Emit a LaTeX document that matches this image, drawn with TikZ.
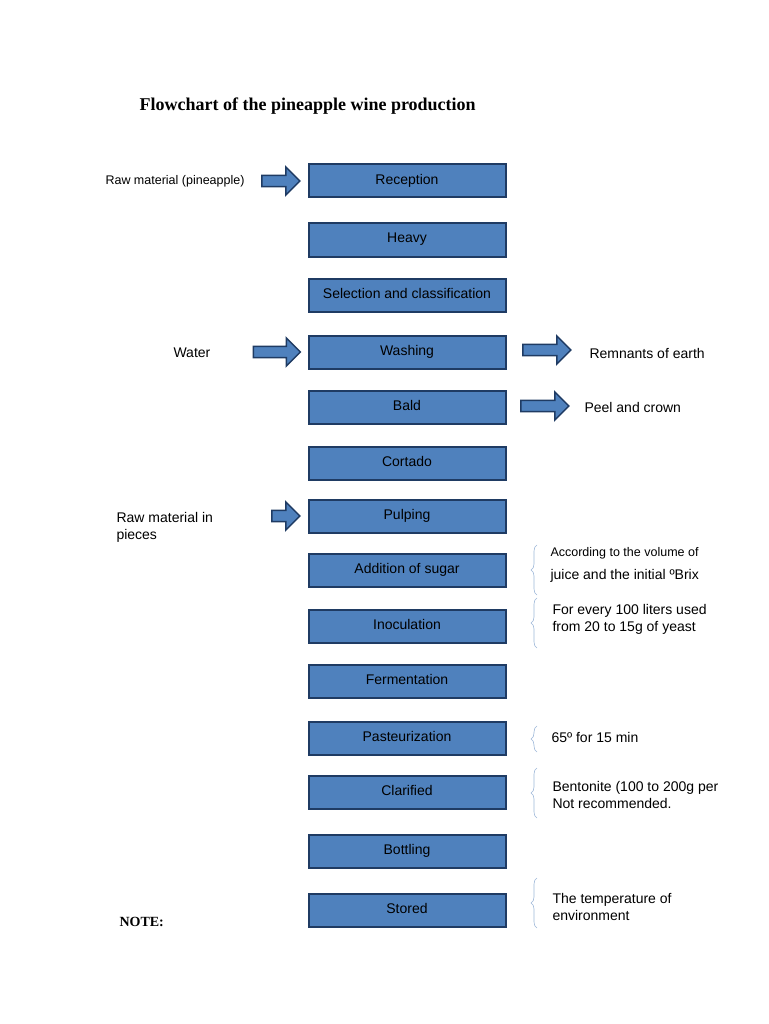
\documentclass[tikz,border=0pt]{standalone}
\usepackage{fontspec}
\setmainfont{Liberation Sans}
\newfontfamily\ttl{Liberation Serif}
\usetikzlibrary{shapes.arrows,decorations.pathreplacing}
\definecolor{bfill}{HTML}{4F81BD}
\definecolor{bdraw}{HTML}{1F3B63}
\definecolor{brc}{HTML}{9DB7D8}
\begin{document}
\begin{tikzpicture}[x=1pt,y=-1pt,
 procbox/.style={draw=bdraw,line width=2pt,fill=bfill,minimum width=197pt,minimum height=33pt,font=\fontsize{14}{16}\selectfont,text depth=4pt,inner sep=0pt},
 barrow/.style={single arrow,draw=bdraw,line width=1.5pt,fill=bfill,single arrow head extend=4pt,minimum height=#1,minimum width=28pt,inner sep=2pt},
 lab/.style={font=\fontsize{14}{17}\selectfont,align=left,anchor=west},
 br/.style={draw=brc,line width=0.6pt,decorate,decoration={brace,amplitude=6pt,mirror}}]
\useasboundingbox (0,0) rectangle (768,1024);
\node[font=\ttl\bfseries\fontsize{18}{20}\selectfont,anchor=west] (title) at (136,106) {Flowchart of the pineapple wine production};
\foreach \n/\t/\y in {s1/Reception/181,s2/Heavy/240,s3/Selection and classification/295,s4/Washing/352,s5/Bald/407,s6/Cortado/463,s7/Pulping/516,s8/Addition of sugar/570,s9/Inoculation/626,s10/Fermentation/681,s11/Pasteurization/738,s12/Clarified/792,s13/Bottling/851,s14/Stored/910}
 \node[procbox] (\n) at (407,\y) {\t};
\node[barrow=38pt] (a1) at (278,181) {};
\node[barrow=47pt] (a2) at (274,352) {};
\node[barrow=48pt] (a3) at (544,350) {};
\node[barrow=48pt] (a4) at (542,406) {};
\node[barrow=28pt] (a5) at (283,516) {};
\node[lab,font=\fontsize{12.5}{15}\selectfont] (l1) at (102,181) {Raw material (pineapple)};
\node[lab] (l2) at (170,353) {Water};
\node[lab] (l3) at (586,353) {Remnants of earth};
\node[lab] (l4) at (581,407) {Peel and crown};
\node[lab] (l5) at (113,527) {Raw material in\\pieces};
\draw[br] (537,545) -- (537,595) coordinate[midway] (b1);
\draw[br] (537,598) -- (537,648) coordinate[midway] (b2);
\draw[br] (537,726) -- (537,752) coordinate[midway] (b3);
\draw[br] (537,768) -- (537,818) coordinate[midway] (b4);
\draw[br] (537,878) -- (537,928) coordinate[midway] (b5);
\node[lab,font=\fontsize{12.5}{15}\selectfont] (n1) at (547,553) {According to the volume of};
\node[lab] (n1b) at (547,576) {juice and the initial ºBrix};
\node[lab] (n2) at (549,619) {For every 100 liters used\\from 20 to 15g of yeast};
\node[lab] (n3) at (548,737) {65º for 15 min};
\node[lab] (n4) at (549,795) {Bentonite (100 to 200g per\\Not recommended.};
\node[lab] (n5) at (549,907) {The temperature of\\environment};
\node[font=\ttl\bfseries\fontsize{14}{16}\selectfont,anchor=west] (note) at (116,922) {NOTE:};
\end{tikzpicture}
\end{document}
